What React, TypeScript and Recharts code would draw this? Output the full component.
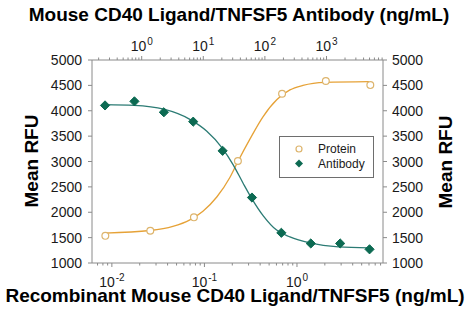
import React from 'react';
import { ComposedChart, Line, Scatter, XAxis, YAxis, Legend } from 'recharts';

// Measured points
const proteinConc = [0.0085, 0.026, 0.077, 0.23, 0.69, 2.05, 6.2];
const proteinRFU = [1535, 1635, 1900, 3010, 4335, 4585, 4505];
const antibodyConc = [0.254, 0.762, 2.29, 6.86, 20.6, 61.7, 185, 556, 1667, 5000];
const antibodyRFU = [4105, 4185, 3970, 3785, 3210, 2290, 1595, 1385, 1385, 1270];

// Fitted curves
const proteinFitConc = [0.0084, 0.0258, 0.0456, 0.0696, 0.0964, 0.136, 0.189, 0.23, 0.31, 0.429, 0.608, 0.839, 1.16, 2.01, 6.0];
const proteinFitRFU = [1590, 1640, 1720, 1850, 2020, 2300, 2690, 3000, 3440, 3880, 4220, 4410, 4500, 4560, 4575];
const antibodyFitConc = [0.25, 0.75, 2.28, 6.05, 11.3, 20.3, 30.6, 44.3, 60.9, 94.2, 155, 255, 538, 1570, 4930];
const antibodyFitRFU = [4120, 4105, 4030, 3830, 3600, 3265, 2935, 2572, 2275, 1930, 1648, 1515, 1396, 1317, 1297];

const yTicks = [1000, 1500, 2000, 2500, 3000, 3500, 4000, 4500, 5000];
const bottomDecades = [0.001, 0.01, 0.1, 1];
const topDecades = [0.1, 1, 10, 100, 1000];
const bottomDomain = [0.0061, 8.5];
const topDomain = [0.156, 8270];

const minorSteps = [1, 2, 3, 4, 5, 6, 7, 8, 9];
const buildTicks = (decades: number[], domain: number[]) => {
  const out: number[] = [];
  decades.forEach((d) => minorSteps.forEach((m) => {
    const v = parseFloat((d * m).toPrecision(6));
    if (v >= domain[0] && v <= domain[1]) out.push(v);
  }));
  return out;
};
const bottomTicks = buildTicks(bottomDecades, bottomDomain);
const topTicks = buildTicks(topDecades, topDomain);

const zip = (xs: number[], ys: number[]) => xs.map((x, i) => ({ x, y: ys[i] }));
const proteinPts = zip(proteinConc, proteinRFU);
const antibodyPts = zip(antibodyConc, antibodyRFU);
const proteinFit = zip(proteinFitConc, proteinFitRFU);
const antibodyFit = zip(antibodyFitConc, antibodyFitRFU);

const FONT = "Arial, 'Liberation Sans', sans-serif";
const AXIS = '#8a8a8a';
const TXT = '#1a1a1a';
const ORANGE = '#E6A237';
const ORANGE_PT = '#DDB46C';
const TEAL = '#2B7B74';
const GREEN_PT = '#0C6A52';

const isPow10 = (v: number) => Math.abs(Math.log10(v) - Math.round(Math.log10(v))) < 1e-6;

const LogTick = (side: 'top' | 'bottom') => (props: any) => {
  const { x, y, payload } = props;
  const v = payload.value;
  const major = isPow10(v);
  const len = major ? 4 : 2.5;
  const sgn = side === 'bottom' ? 1 : -1;
  const exp = Math.round(Math.log10(v));
  return (
    <g>
      <line x1={x} x2={x} y1={y} y2={y + sgn * len} stroke={AXIS} strokeWidth={1} />
      {major && (
        <text x={x} y={side === 'bottom' ? y + 24 : y - 9} textAnchor="middle" fontFamily={FONT} fontSize={14} fill={TXT}>
          <tspan>10</tspan>
          <tspan dx={1} dy={-6} fontSize={10}>{String(exp)}</tspan>
        </text>
      )}
    </g>
  );
};

const YTick = (side: 'left' | 'right') => (props: any) => {
  const { x, y, payload } = props;
  const sgn = side === 'left' ? -1 : 1;
  return (
    <g>
      <line x1={x} x2={x + sgn * 4} y1={y} y2={y} stroke={AXIS} strokeWidth={1} />
      <text x={side === 'left' ? x - 10 : x + 9} y={y + 5} textAnchor={side === 'left' ? 'end' : 'start'} fontFamily={FONT} fontSize={14} fill={TXT}>
        {payload.value}
      </text>
    </g>
  );
};

const circleShape = (p: any) => (
  <circle cx={p.cx} cy={p.cy} r={3.4} fill="#fff" stroke={ORANGE_PT} strokeWidth={1.2} />
);
const diamondShape = (p: any) => {
  const r = 4.6;
  return (
    <path d={`M${p.cx},${p.cy - r}L${p.cx + r},${p.cy}L${p.cx},${p.cy + r}L${p.cx - r},${p.cy}Z`} fill={GREEN_PT} stroke={GREEN_PT} strokeWidth={1} strokeLinejoin="round" />
  );
};

const renderLegend = () => (
  <svg width={95} height={42} style={{ display: 'block' }}>
    <rect x={0.5} y={0.5} width={94} height={41} fill="#fff" stroke="#6e6e6e" strokeWidth={1} />
    <circle cx={20} cy={13} r={3} fill="#fff" stroke={ORANGE_PT} strokeWidth={1.2} />
    <text x={39} y={17} fontFamily={FONT} fontSize={12} fill={TXT}>Protein</text>
    <path d="M20,23.5L24,27.5L20,31.5L16,27.5Z" fill={GREEN_PT} />
    <text x={39} y={32} fontFamily={FONT} fontSize={12} fill={TXT}>Antibody</text>
  </svg>
);

export default function App() {
  return (
    <div style={{ position: 'absolute', left: 0, top: 0, width: 474, height: 323, background: '#fff' }}>
      <ComposedChart width={474} height={323} margin={{ top: 0, right: 0, bottom: 0, left: 0 }}>
        <XAxis xAxisId="bottom" orientation="bottom" dataKey="x" type="number" scale="log" domain={bottomDomain}
          allowDataOverflow ticks={bottomTicks} interval={0} height={60} tickSize={0} tickMargin={0}
          tick={LogTick('bottom')} axisLine={{ stroke: AXIS }} />
        <XAxis xAxisId="top" orientation="top" dataKey="x" type="number" scale="log" domain={topDomain}
          allowDataOverflow ticks={topTicks} interval={0} height={60} tickSize={0} tickMargin={0}
          tick={LogTick('top')} axisLine={{ stroke: AXIS }} />
        <YAxis yAxisId="left" orientation="left" type="number" domain={[1000, 5000]} ticks={yTicks} interval={0}
          width={92} tickSize={0} tickMargin={0} tick={YTick('left')} axisLine={{ stroke: AXIS }} allowDataOverflow />
        <YAxis yAxisId="right" orientation="right" type="number" domain={[1000, 5000]} ticks={yTicks} interval={0}
          width={91} tickSize={0} tickMargin={0} tick={YTick('right')} axisLine={{ stroke: AXIS }} allowDataOverflow />
        <Line xAxisId="bottom" yAxisId="left" data={proteinFit} dataKey="y" type="monotone" stroke={ORANGE}
          strokeWidth={1.3} dot={false} activeDot={false} isAnimationActive={false} legendType="none" />
        <Line xAxisId="top" yAxisId="left" data={antibodyFit} dataKey="y" type="monotone" stroke={TEAL}
          strokeWidth={1.3} dot={false} activeDot={false} isAnimationActive={false} legendType="none" />
        <Scatter xAxisId="bottom" yAxisId="left" data={proteinPts} dataKey="y" name="Protein" shape={circleShape} isAnimationActive={false} />
        <Scatter xAxisId="top" yAxisId="left" data={antibodyPts} dataKey="y" name="Antibody" shape={diamondShape} isAnimationActive={false} />
        <Legend layout="vertical" align="center" verticalAlign="middle" content={renderLegend}
          wrapperStyle={{ position: 'absolute', left: 279, top: 136, width: 95, height: 42 }} />
      </ComposedChart>
      <svg width={474} height={323} style={{ position: 'absolute', left: 0, top: 0, pointerEvents: 'none' }}>
        <text x={239} y={21} textAnchor="middle" fontFamily={FONT} fontSize={19} fontWeight="bold" fill="#000">
          Mouse CD40 Ligand/TNFSF5 Antibody (ng/mL)
        </text>
        <text x={235} y={302} textAnchor="middle" fontFamily={FONT} fontSize={19} fontWeight="bold" fill="#000">
          Recombinant Mouse CD40 Ligand/TNFSF5 (ng/mL)
        </text>
        <text transform="translate(38,161) rotate(-90)" textAnchor="middle" fontFamily={FONT} fontSize={19} fontWeight="bold" fill="#000">
          Mean RFU
        </text>
        <text transform="translate(452,162) rotate(-90)" textAnchor="middle" fontFamily={FONT} fontSize={19} fontWeight="bold" fill="#000">
          Mean RFU
        </text>
      </svg>
    </div>
  );
}
